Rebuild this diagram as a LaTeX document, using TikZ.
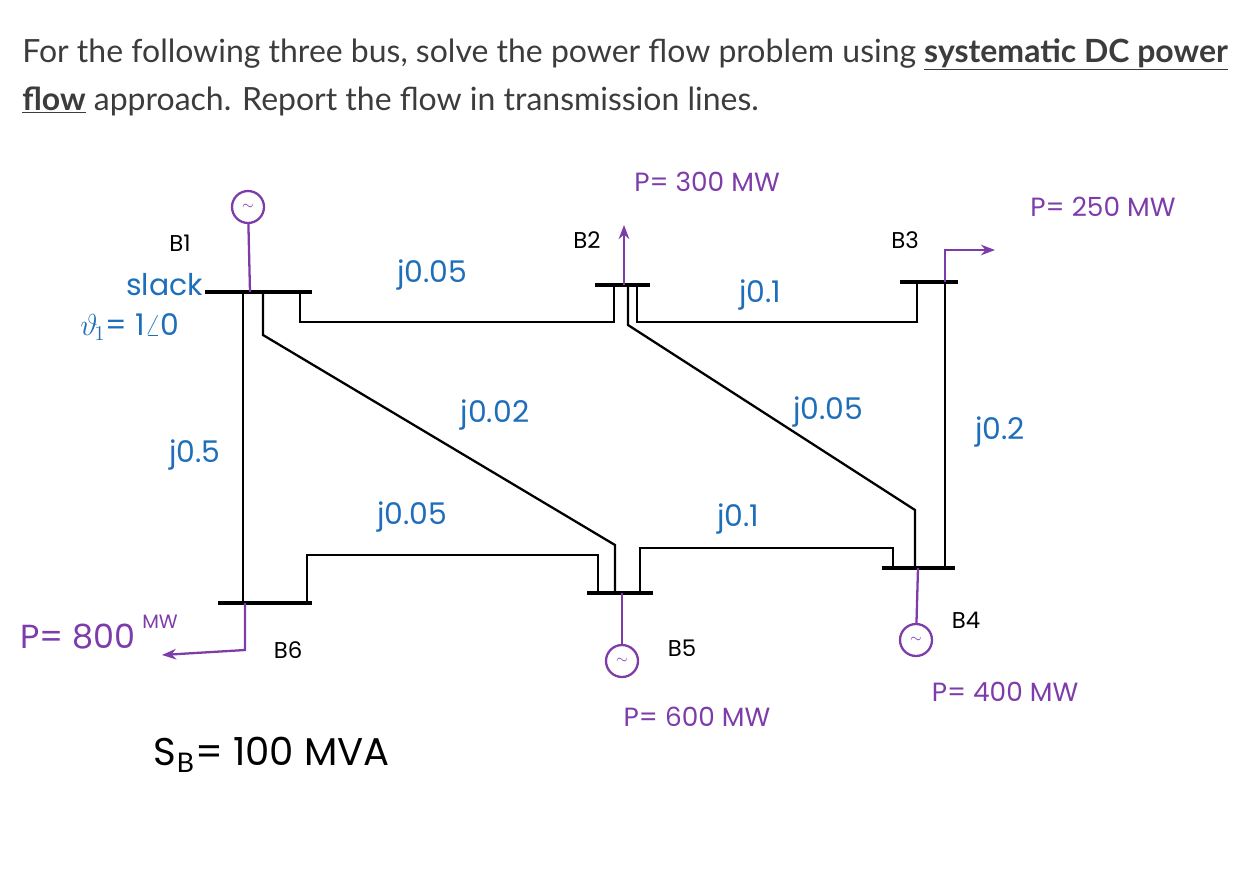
\documentclass[tikz,border=0pt]{standalone}
\usepackage{fontspec}
\setmainfont{Lato}
\newfontfamily\hand{Poppins}
\usetikzlibrary{arrows.meta}
\definecolor{hblue}{RGB}{30,110,185}
\definecolor{hpurp}{RGB}{125,60,170}
\definecolor{txt}{RGB}{60,60,60}
\begin{document}
\begin{tikzpicture}[x=0.02cm,y=-0.02cm,
  ln/.style={line width=1.3pt,black},
  bus/.style={line width=1.8pt,black},
  gen/.style={circle,draw=hpurp,line width=1.3pt,minimum size=0.64cm,inner sep=0pt,font=\fontsize{8}{8}\selectfont\color{hpurp}},
  pl/.style={line width=1.3pt,hpurp},
  imp/.style={font=\hand\fontsize{17}{17}\selectfont,text=hblue},
  bl/.style={font=\hand\fontsize{13}{13}\selectfont,text=black},
  pw/.style={font=\hand\fontsize{15}{15}\selectfont,text=hpurp}]
\useasboundingbox (0,0) rectangle (1250,876);
% header
\node[anchor=base west,text=txt,font=\fontsize{18.2}{18.2}\selectfont,inner sep=0] (h1) at (22,62) {For the following three bus, solve the power flow problem using \textbf{\underline{systematic DC power}}};
\node[anchor=base west,text=txt,font=\fontsize{18.2}{18.2}\selectfont,inner sep=0] (h2) at (22,110) {\textbf{\underline{flow}} approach. Report the flow in transmission lines.};
% buses
\draw[bus] (205,292) -- (312,292);
\draw[bus] (595,285) -- (650,285);
\draw[bus] (900,282) -- (958,282);
\draw[bus] (882,568) -- (955,568);
\draw[bus] (587,593) -- (653,593);
\draw[bus] (218,603) -- (312,603);
% lines
\draw[ln] (300,292) -- (300,322) -- (614,322) -- (614,285);
\draw[ln] (243,292) -- (243,603);
\draw[ln] (263,292) -- (263,335) -- (615,545) -- (615,593);
\draw[ln] (637,285) -- (637,322) -- (917,322) -- (917,282);
\draw[ln] (628,285) -- (628,325) -- (915,510) -- (915,568);
\draw[ln] (945,282) -- (945,568);
\draw[ln] (307,603) -- (307,555) -- (598,555) -- (598,593);
\draw[ln] (640,593) -- (640,548) -- (893,548) -- (893,568);
% generators
\node[gen] (g1) at (248,207) {$\sim$};
\draw[pl] (g1) -- (250,292);
\node[gen] (g5) at (622,661) {$\sim$};
\draw[pl] (g5) -- (622,593);
\node[gen] (g4) at (916,640) {$\sim$};
\draw[pl] (g4) -- (918,568);
% loads
\draw[pl,-{Stealth[length=8pt]}] (624,285) -- (624,225);
\draw[pl,-{Stealth[length=8pt]}] (945,282) -- (945,250) -- (995,250);
\draw[pl,-{Stealth[length=8pt]}] (245,603) -- (245,650) -- (162,655);
% labels
\node[imp] (i1) at (432,275) {j0.05};
\node[imp] (i2) at (760,295) {j0.1};
\node[imp] (i3) at (495,415) {j0.02};
\node[imp] (i4) at (828,412) {j0.05};
\node[imp] (i5) at (1000,432) {j0.2};
\node[imp] (i6) at (195,455) {j0.5};
\node[imp] (i7) at (412,517) {j0.05};
\node[imp] (i8) at (738,519) {j0.1};
\node[imp,anchor=east,inner sep=1pt] (sl) at (205,285) {slack};
\node[imp] (v1) at (130,327) {$\vartheta_{\!1}$= 1$\angle$0};
\node[bl] (B1) at (180,243) {B1};
\node[bl] (B2) at (587,240) {B2};
\node[bl] (B3) at (905,240) {B3};
\node[bl] (B4) at (966,620) {B4};
\node[bl] (B5) at (682,648) {B5};
\node[bl] (B6) at (288,650) {B6};
\node[pw] (p2) at (707,182) {P= 300 MW};
\node[pw] (p3) at (1103,207) {P= 250 MW};
\node[pw,font=\hand\fontsize{19}{19}\selectfont] (p6) at (78,637) {P= 800};
\node[pw,font=\hand\fontsize{11}{11}\selectfont] (p6b) at (160,622) {MW};
\node[pw] (p5) at (697,717) {P= 600 MW};
\node[pw] (p4) at (1005,692) {P= 400 MW};
\node[font=\hand\fontsize{22}{22}\selectfont] (sb) at (272,755) {S$_{\mathrm B}$= 100 MVA};
\end{tikzpicture}
\end{document}
